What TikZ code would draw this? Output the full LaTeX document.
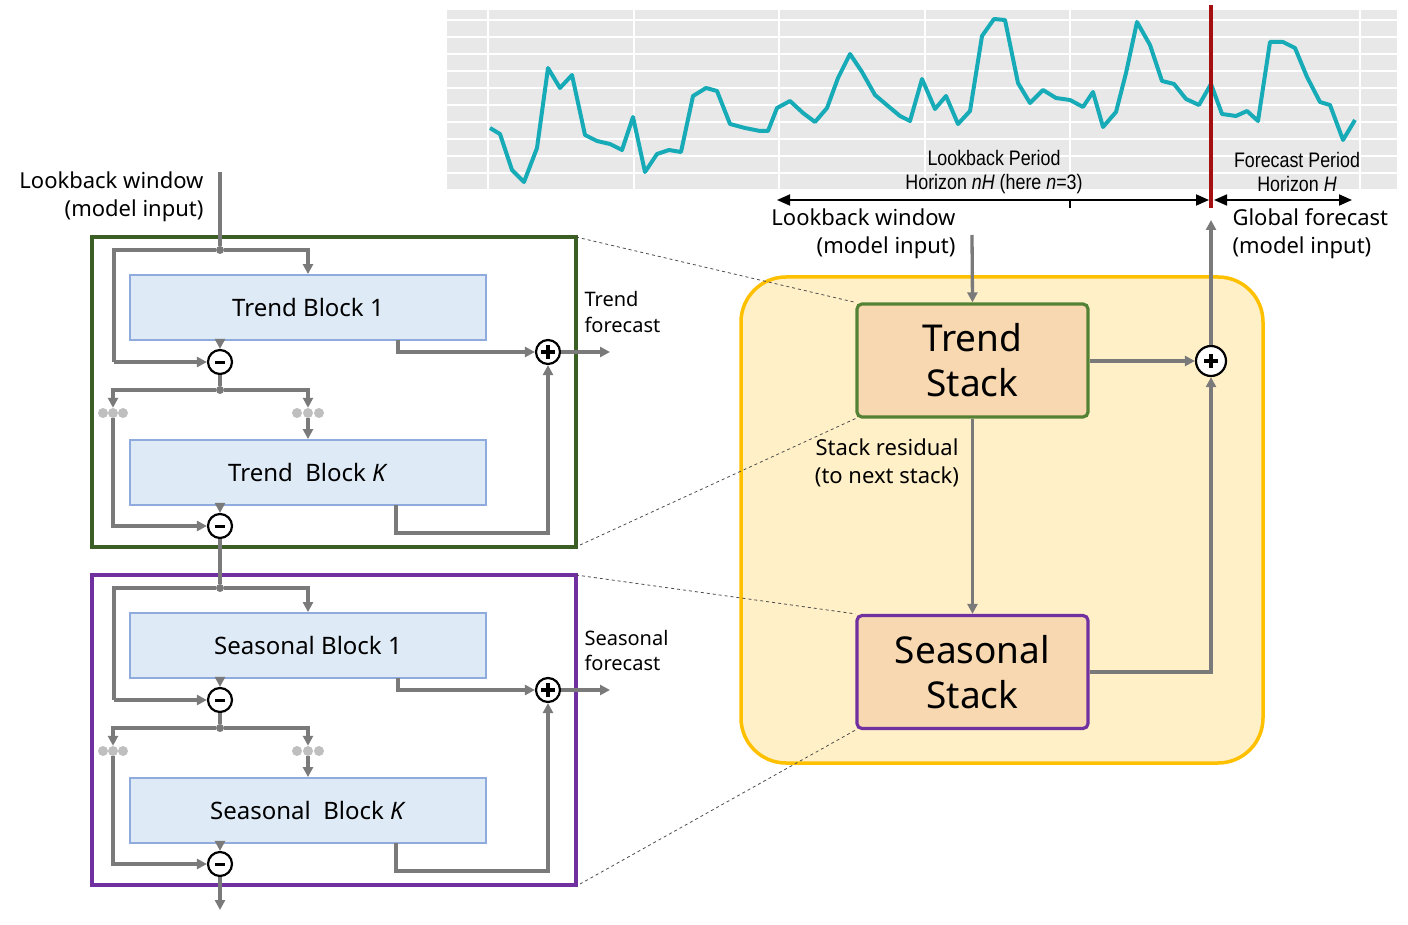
\documentclass[tikz,border=0pt]{standalone}
\usepackage{fontspec}
\setmainfont{Noto Sans}
\newfontfamily\chartfont{Liberation Sans}[FakeStretch=0.85]
\usetikzlibrary{arrows.meta}
\definecolor{arr}{HTML}{7A7A7A}
\definecolor{blkfill}{HTML}{DEEAF6}
\definecolor{blkdraw}{HTML}{8FAADC}
\definecolor{grn}{HTML}{3B5E25}
\definecolor{sgrn}{HTML}{548235}
\definecolor{purp}{HTML}{7030A0}
\definecolor{stk}{HTML}{F8D8B0}
\definecolor{yel}{HTML}{FFF0C8}
\definecolor{yeldraw}{HTML}{FFC000}
\definecolor{teal}{HTML}{17ABB8}
\definecolor{darkred}{HTML}{A50F0F}
\begin{document}
\begin{tikzpicture}[x=1pt,y=-1pt,
  ar/.style={draw=arr,line width=3.3pt,-{Triangle[length=10pt,width=10pt]}},
  ln/.style={draw=arr,line width=3.3pt},
  block/.style={draw=blkdraw,fill=blkfill,line width=1.8pt,minimum width=356pt,minimum height=65pt,font=\fontsize{24}{28}\selectfont},
  op/.style={circle,draw=black,fill=white,line width=2.2pt,inner sep=0pt,minimum size=24pt},
  minus/.style={op,path picture={\draw[line width=3pt] ([xshift=-5pt]path picture bounding box.center)--([xshift=5pt]path picture bounding box.center);}},
  plus/.style={op,path picture={\draw[line width=3.2pt] ([xshift=-7pt]path picture bounding box.center)--([xshift=7pt]path picture bounding box.center) ([yshift=-7pt]path picture bounding box.center)--([yshift=7pt]path picture bounding box.center);}},
  dot/.style={circle,fill=arr,inner sep=0pt,minimum size=8pt},
  gd/.style={circle,fill=black!25,inner sep=0pt,minimum size=10pt},
  lbl/.style={font=\fontsize{22}{28}\selectfont,align=right,anchor=east},
  small/.style={font=\fontsize{20}{25}\selectfont,align=left,anchor=west},
  stack/.style={draw,fill=stk,line width=3.2pt,rounded corners=5pt,minimum width=231pt,minimum height=113pt,font=\fontsize{37}{45}\selectfont,align=center},
  dsh/.style={draw=black!70,dashed,line width=0.8pt},
  ch/.style={font=\chartfont\fontsize{21}{24}\selectfont,align=center}]
\useasboundingbox (0,0) rectangle (1408,925);
% chart
\fill[black!9] (447,10) rectangle (1397,190);
\foreach \y in {20,37,54,71,88,105,122,139,156,173,190}{\draw[white,line width=1.8pt] (447,\y)--(1397,\y);}
\foreach \x in {488,634,779,925,1070,1360}{\draw[white,line width=1.8pt] (\x,10)--(\x,190);}
\draw[teal,line width=4pt,line join=round] plot coordinates {(490,128)(500,134)(512,170)(524,182)(537,148)(548,68)(560,88)(572,75)(585,135)(597,141)(610,144)(622,150)(633,117)(645,172)(657,154)(669,150)(681,152)(693,96)(706,88)(717,91)(730,124)(745,128)(760,131)(768,131)(777,108)(790,101)(803,113)(815,122)(827,108)(838,78)(850,54)(862,72)(875,95)(888,106)(900,116)(910,121)(922,79)(935,109)(946,96)(958,124)(970,111)(982,36)(994,19)(1005,20)(1018,83)(1030,103)(1043,90)(1056,98)(1070,100)(1083,107)(1093,92)(1103,127)(1116,112)(1126,73)(1137,22)(1150,45)(1162,81)(1174,84)(1186,99)(1199,105)(1211,84)(1222,114)(1236,116)(1247,111)(1258,121)(1270,42)(1283,42)(1295,48)(1307,77)(1320,102)(1330,105)(1343,140)(1355,120)};
\node[ch] (lp) at (994,172) {Lookback Period\\Horizon \textit{nH} (here \textit{n}=3)};
\node[ch] (fp) at (1297,172) {Forecast Period\\Horizon \textit{H}};
\draw[black,line width=1.2pt] (1070,200)--(1070,208);
\coordinate (la) at (777,200); \coordinate (lb) at (1209,200);
\coordinate (fa) at (1214,200); \coordinate (fb) at (1352,200);
\draw[black,line width=1.8pt,{Triangle[length=13pt,width=11pt]}-{Triangle[length=13pt,width=11pt]}] (la)--(lb);
\draw[black,line width=1.8pt,{Triangle[length=13pt,width=11pt]}-{Triangle[length=13pt,width=11pt]}] (fa)--(fb);
\draw[darkred,line width=3.5pt] (1211,5)--(1211,208);
% right panel
\draw[yeldraw,fill=yel,line width=3.5pt,rounded corners=45pt] (741,277) rectangle (1263,763);
\node[stack,draw=sgrn] (ts) at (972.5,360.5) {Trend\\Stack};
\node[stack,draw=purp] (ss) at (972.5,672) {Seasonal\\Stack};
\node[plus,minimum size=30pt] (gp) at (1211,361) {};
\node[lbl] (lw2) at (959,234) {Lookback window\\(model input)};
\node[lbl,anchor=west,align=left] (gf) at (1229,234) {Global forecast\\(model input)};
\node[font=\fontsize{22}{28}\selectfont,align=center] (sr) at (887,463) {Stack residual\\(to next stack)};
\coordinate (lwt) at (972,235);
\coordinate (gft) at (1211,220);
\draw[ar] (lwt)--(ts.north);
\draw[ar] (ts.east|-gp)--(gp);
\draw[ar] (gp)--(gft);
\draw[ar] (ss.east)-|(gp);
\draw[ar] (ts)--(ss);
% left panel
\node[lbl] (lw1) at (207,197) {Lookback window\\(model input)};
\foreach \n/\oy/\col/\nm in {T/0/grn/Trend,S/338/purp/Seasonal}{
  \begin{scope}[yshift=-\oy pt]
  \draw[\col,line width=3.5pt] (92,237) rectangle (576,547);
  \node[block] (\n b1) at (308,307.5) {\nm\ Block 1};
  \node[block] (\n bk) at (308,472.5) {\nm\ \ Block \textit{K}};
  \node[minus] (\n m1) at (220,362) {};
  \node[minus] (\n m2) at (220,526) {};
  \node[plus] (\n p) at (548,352) {};
  \node[dot] (\n d1) at (220,250) {};
  \node[dot] (\n d2) at (220,390) {};
  \node[gd] at (103,413) {}; \node[gd] (\n ga) at (113,413) {}; \node[gd] at (123,413) {};
  \node[gd] at (297,413) {}; \node[gd] (\n gb) at (308,413) {}; \node[gd] at (319,413) {};
  \coordinate (\n o) at (610,352);
  \draw[ln] (\n d1)-|(114,362);
  \draw[ar] (114,362)--(\n m1);
  \draw[ar] (\n d1)-|(\n b1.north);
  \draw[ar] (220,340)--(\n m1);
  \draw[ar] (398,340)|-(\n p);
  \draw[ar] (\n p)--(\n o);
  \draw[ln] (\n m1)--(\n d2);
  \draw[ar] (\n d2)-|(\n ga);
  \draw[ar] (\n d2)-|(\n gb);
  \draw[ln] (\n ga)|-(170,526);
  \draw[ar] (170,526)--(\n m2);
  \draw[ar] (\n gb)--(\n bk.north);
  \draw[ar] (220,505)--(\n m2);
  \draw[ar] (396,505)|-(548,533)--(\n p);
  \end{scope}}
\node[small] (tf) at (581,312) {Trend\\forecast};
\node[small] (sf) at (581,650) {Seasonal\\forecast};
\coordinate (in) at (220,172);
\coordinate (out) at (220,910);
\draw[ln] (in)--(Td1);
\draw[ln] (Tm2)--(Sd1);
\draw[ar] (Sm2)--(out);
\draw[dsh] (576,237)--(ts.north west);
\draw[dsh] (580,545)--(ts.south west);
\draw[dsh] (576,575)--(ss.north west);
\draw[dsh] (580,884)--(ss.south west);
\end{tikzpicture}
\end{document}
